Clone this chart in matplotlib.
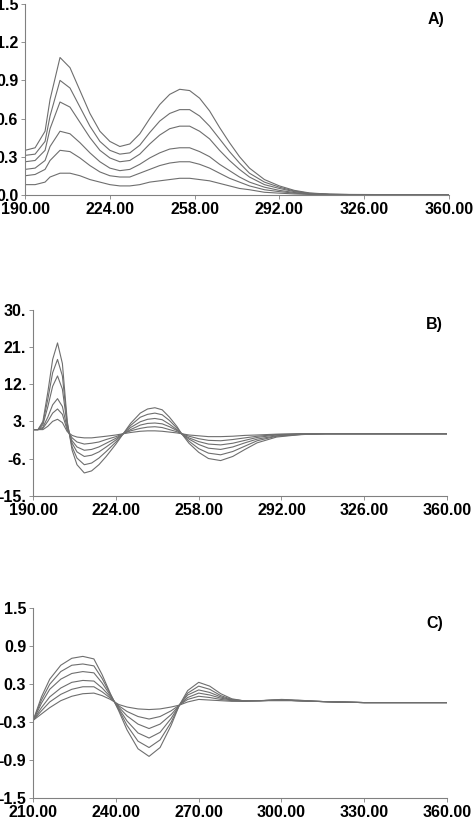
import matplotlib
matplotlib.use('Agg')
import matplotlib.pyplot as plt

plt.rcParams['font.family'] = ['Liberation Sans', 'DejaVu Sans']

# Panel A - zero order spectra
xa = [190, 194, 198, 200, 204, 208, 212, 216, 220, 224, 228, 232, 236, 240, 244, 248, 252, 256,
      260, 264, 268, 272, 276, 280, 286, 292, 298, 304, 312, 320, 330, 340, 350, 360]
ya = [
    [.35, .37, .50, .75, 1.08, 1.0, .82, .64, .50, .42, .38, .40, .48, .60, .71, .79, .83, .82, .76, .66, .53, .41, .30, .21, .12, .07, .035, .015, .005, .003, .002, .001, .001, 0],
    [.31, .32, .42, .62, .90, .84, .69, .54, .42, .35, .32, .33, .39, .49, .58, .64, .67, .67, .62, .54, .44, .34, .25, .17, .10, .06, .03, .012, .004, .002, .001, .001, 0, 0],
    [.26, .27, .35, .52, .73, .69, .57, .45, .35, .29, .26, .27, .32, .40, .47, .52, .54, .54, .50, .44, .35, .27, .20, .14, .08, .05, .025, .01, .004, .002, .001, 0, 0, 0],
    [.20, .21, .27, .38, .50, .48, .41, .33, .26, .21, .19, .20, .24, .29, .33, .36, .37, .37, .34, .30, .24, .19, .14, .10, .06, .035, .018, .008, .003, .001, 0, 0, 0, 0],
    [.15, .16, .20, .27, .35, .34, .29, .23, .18, .15, .14, .14, .17, .20, .23, .25, .26, .26, .24, .21, .17, .13, .10, .07, .04, .025, .013, .006, .002, .001, 0, 0, 0, 0],
    [.08, .08, .10, .14, .17, .17, .15, .12, .10, .08, .07, .07, .08, .10, .11, .12, .13, .13, .12, .11, .09, .07, .05, .04, .02, .013, .007, .003, .001, 0, 0, 0, 0, 0],
]

# Panel B - derivative spectra
xb = [190, 192, 194, 196, 198, 200, 202, 204, 206, 208, 211, 214, 217, 220, 224, 227, 230, 234,
      237, 240, 243, 246, 249, 251, 254, 258, 262, 267, 272, 277, 282, 290, 300, 310, 330, 360]
yb = [
    [1, 1, 3, 10, 18, 22, 17, 3, -4, -7.5, -9.5, -9, -7.5, -5.5, -2.5, 0, 2.5, 5, 6, 6.3, 5.8, 4, 1.8, 0, -2.3, -4.5, -6, -6.5, -5.5, -3.8, -2.2, -0.8, -0.2, 0, 0, 0],
    [1, 1, 2.6, 8.3, 14.8, 18, 14, 2.5, -3.2, -5.9, -7.5, -7.1, -5.9, -4.3, -2, 0, 2, 4, 4.7, 5, 4.6, 3.2, 1.4, 0, -1.8, -3.6, -4.7, -5.1, -4.3, -3, -1.7, -0.6, -0.2, 0, 0, 0],
    [1, 1, 2.2, 6.5, 11.5, 14, 10.8, 1.9, -2.3, -4.4, -5.5, -5.2, -4.4, -3.2, -1.5, 0, 1.5, 2.9, 3.5, 3.7, 3.4, 2.3, 1, 0, -1.3, -2.6, -3.5, -3.8, -3.2, -2.2, -1.3, -0.5, -0.1, 0, 0, 0],
    [1, 1, 1.6, 4, 7, 8.5, 6.6, 1.2, -1.7, -3.2, -4, -3.8, -3.2, -2.3, -1.1, 0, 1, 2.1, 2.5, 2.6, 2.4, 1.7, 0.8, 0, -1, -1.9, -2.5, -2.7, -2.3, -1.6, -0.9, -0.3, -0.1, 0, 0, 0],
    [1, 1, 1.3, 3, 5, 6, 4.7, 0.8, -1, -2, -2.5, -2.3, -2, -1.4, -0.7, 0, 0.7, 1.3, 1.6, 1.7, 1.5, 1, 0.5, 0, -0.6, -1.2, -1.6, -1.7, -1.4, -1, -0.6, -0.2, 0, 0, 0, 0],
    [1, 1, 1, 1.8, 3, 3.5, 2.7, 0.5, -0.4, -0.8, -1, -1, -0.8, -0.6, -0.3, 0, 0.3, 0.6, 0.7, 0.7, 0.6, 0.4, 0.2, 0, -0.3, -0.5, -0.7, -0.7, -0.6, -0.4, -0.3, -0.1, 0, 0, 0, 0],
]

# Panel C - ratio derivative spectra
xc = [210, 213, 216, 220, 224, 228, 232, 235, 238, 241, 244, 248, 252, 256, 260, 263, 266, 270,
      274, 278, 282, 286, 292, 300, 306, 312, 320, 330, 340, 350, 360]
yc = [
    [-.27, .1, .38, .6, .71, .74, .70, .45, .15, -.12, -.42, -.72, -.84, -.7, -.35, -.03, .2, .33, .27, .15, .07, .04, .04, .06, .05, .03, .02, .01, .01, .01, .01],
    [-.27, .05, .3, .5, .6, .62, .59, .39, .14, -.1, -.35, -.6, -.7, -.58, -.3, -.03, .16, .27, .22, .12, .06, .04, .04, .05, .04, .03, .02, .01, .01, .01, .01],
    [-.27, 0, .22, .38, .47, .5, .48, .32, .12, -.08, -.28, -.47, -.55, -.46, -.24, -.03, .13, .21, .17, .1, .05, .04, .04, .05, .04, .03, .02, .01, .01, .01, .01],
    [-.27, -.07, .1, .24, .33, .36, .35, .24, .1, -.06, -.2, -.33, -.4, -.33, -.18, -.03, .09, .16, .13, .08, .05, .04, .04, .05, .04, .03, .02, .01, .01, .01, .01],
    [-.27, -.12, .02, .14, .22, .26, .26, .18, .08, -.04, -.13, -.21, -.25, -.21, -.12, -.03, .06, .11, .09, .06, .04, .03, .04, .05, .04, .03, .02, .01, .01, .01, .01],
    [-.27, -.17, -.07, .04, .11, .15, .16, .12, .06, -.02, -.06, -.09, -.1, -.09, -.06, -.03, .02, .06, .05, .04, .03, .03, .04, .04, .04, .03, .02, .01, .01, .01, .01],
]

xt_ab = [190, 224, 258, 292, 326, 360]
xt_c = [210, 240, 270, 300, 330, 360]
yt_a = [0.0, 0.3, 0.6, 0.9, 1.2, 1.5]
yt_a_lbl = ['0.0', '0.3', '0.6', '0.9', '1.2', '1.5']
yt_b = [-15, -6, 3, 12, 21, 30]
yt_b_lbl = ['-15.', '-6.', '3.', '12.', '21.', '30.']
yt_c = [-1.5, -0.9, -0.3, 0.3, 0.9, 1.5]
yt_c_lbl = ['-1.5', '-0.9', '-0.3', '0.3', '0.9', '1.5']

fig = plt.figure(figsize=(4.74, 8.22), dpi=100)

panels = [
    ([0.053, 0.763, 0.894, 0.232], xa, ya, xt_ab, yt_a, yt_a_lbl, 'A)'),
    ([0.07, 0.397, 0.873, 0.226], xb, yb, xt_ab, yt_b, yt_b_lbl, 'B)'),
    ([0.07, 0.029, 0.873, 0.231], xc, yc, xt_c, yt_c, yt_c_lbl, 'C)'),
]

for rect, x, ys, xt, yt, ytl, tag in panels:
    ax = fig.add_axes(rect)
    for y in ys:
        ax.plot(x, y, color='#6e6e6e', lw=0.8)
    ax.set_xlim(xt[0], xt[-1])
    ax.set_ylim(yt[0], yt[-1])
    ax.set_xticks(xt)
    ax.set_xticklabels(['%.2f' % v for v in xt])
    ax.set_yticks(yt)
    ax.set_yticklabels(ytl)
    for s in ['top', 'right']:
        ax.spines[s].set_visible(False)
    for s in ['left', 'bottom']:
        ax.spines[s].set_color('#808080')
        ax.spines[s].set_linewidth(0.8)
    ax.tick_params(direction='out', length=3, width=0.6, color='#808080', pad=2, labelsize=11.5)
    for lbl in ax.get_xticklabels() + ax.get_yticklabels():
        lbl.set_fontweight('bold')
    ax.text(0.99, 0.96, tag, transform=ax.transAxes, ha='right', va='top',
            fontsize=11.5, fontweight='bold')

fig.savefig('out.png', dpi=100)
